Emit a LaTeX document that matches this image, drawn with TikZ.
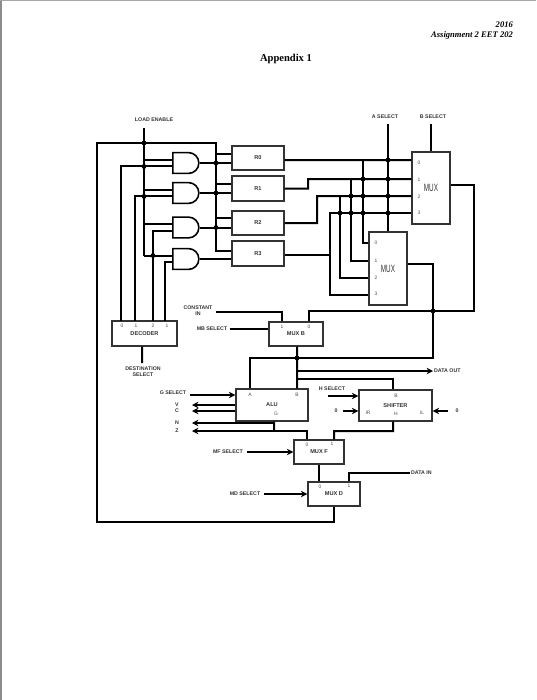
\documentclass[tikz,border=0pt]{standalone}
\usepackage{fontspec}
\setmainfont{Liberation Serif}
\setsansfont{Liberation Sans}
\usetikzlibrary{shapes.gates.logic.US,arrows.meta}
\begin{document}
\begin{tikzpicture}[]
      \coordinate (origo) at (0mm,0mm);
      \useasboundingbox (origo) rectangle (268mm,-350mm);
      
      \tikzstyle{wire} = [line width=1mm,draw=black]
      \tikzstyle{arrow} = [line width=1mm,-{Stealth[length=3.2mm,width=3.2mm]},draw=black]
      \tikzstyle{cell} = [
        rectangle,
        draw=black!80,
        line width=0.7mm,
        fill=white,
        font=\sffamily\bfseries\fontsize{8}{8}\selectfont,
        text=black!80,
        inner sep=0pt,
      ]
      \tikzstyle{andgate} = [
        and gate US,
        draw=black,
        line width=0.8mm,
        logic gate inputs=nn,
        minimum width=13mm,
        minimum height=9mm,
        inner sep=0pt,
      ]
      \tikzstyle{tag} = [
        draw=none,
        inner sep=0.5mm,
        align=center,
        text=black!80,
        font=\sffamily\bfseries\fontsize{7.5}{8.5}\selectfont
      ]
      \tikzstyle{pinlabel} = [
        draw=none,
        inner sep=0pt,
        text=black!70,
        font=\sffamily\fontsize{7}{7}\selectfont
      ]
      \tikzstyle{muxlabel} = [
        draw=none,
        inner sep=0pt,
        text=black!80,
        font=\sffamily\fontsize{15}{15}\selectfont
      ]
      \tikzstyle{dot} = [circle,fill=black,inner sep=0pt,minimum size=2.4mm]
      
      % page edge
      \draw[line width=2mm,draw=black!45] (origo) -- ([yshift=-350mm] origo);
      \draw[line width=1mm,draw=black!35] (origo) -- ([xshift=268mm] origo);
      
      % header
      \node[anchor=east,inner sep=0pt,font=\bfseries\itshape\fontsize{12.2}{12.2}\selectfont] (headYear) at ([xshift=256.5mm,yshift=-12.5mm] origo) {2016};
      \node[anchor=east,inner sep=0pt,font=\bfseries\itshape\fontsize{12.2}{12.2}\selectfont] (headName) at ([xshift=256.5mm,yshift=-17.5mm] origo) {Assignment 2 EET 202};
      \node[inner sep=0pt,font=\bfseries\fontsize{15}{15}\selectfont] (headTitle) at ([xshift=143mm,yshift=-29.5mm] origo) {Appendix 1};
      
      % registers
      \node[cell,minimum width=26mm,minimum height=12mm] (regR0) at ([xshift=129mm,yshift=-79mm] origo) {R0};
      \node[cell,minimum width=26mm,minimum height=12.5mm] (regR1) at ([xshift=129mm,yshift=-94.25mm] origo) {R1};
      \node[cell,minimum width=26mm,minimum height=12mm] (regR2) at ([xshift=129mm,yshift=-111.5mm] origo) {R2};
      \node[cell,minimum width=26mm,minimum height=12.5mm] (regR3) at ([xshift=129mm,yshift=-126.75mm] origo) {R3};
      
      % gates
      \node[andgate] (and0) at ([xshift=92.5mm,yshift=-81.5mm] origo) {};
      \node[andgate] (and1) at ([xshift=92.5mm,yshift=-96.5mm] origo) {};
      \node[andgate] (and2) at ([xshift=92.5mm,yshift=-113.75mm] origo) {};
      \node[andgate] (and3) at ([xshift=92.5mm,yshift=-129.5mm] origo) {};
      
      % muxes
      \node[cell,minimum width=19mm,minimum height=36mm] (muxUpper) at ([xshift=215.5mm,yshift=-94mm] origo) {};
      \node[cell,minimum width=19mm,minimum height=36.5mm] (muxLower) at ([xshift=194mm,yshift=-134.25mm] origo) {};
      \node[muxlabel] (muxUpperName) at ([xshift=215.5mm,yshift=-94mm] origo) {\scalebox{0.6}[1]{MUX}};
      \node[muxlabel] (muxLowerName) at ([xshift=194mm,yshift=-134.5mm] origo) {\scalebox{0.6}[1]{MUX}};
      \node[pinlabel] (muxUpperPin0) at ([xshift=209.5mm,yshift=-81.5mm] origo) {0};
      \node[pinlabel] (muxUpperPin1) at ([xshift=209.5mm,yshift=-90mm] origo) {1};
      \node[pinlabel] (muxUpperPin2) at ([xshift=209.5mm,yshift=-98.5mm] origo) {2};
      \node[pinlabel] (muxUpperPin3) at ([xshift=209.5mm,yshift=-106.5mm] origo) {3};
      \node[pinlabel] (muxLowerPin0) at ([xshift=188mm,yshift=-121.5mm] origo) {0};
      \node[pinlabel] (muxLowerPin1) at ([xshift=188mm,yshift=-130.5mm] origo) {1};
      \node[pinlabel] (muxLowerPin2) at ([xshift=188mm,yshift=-139mm] origo) {2};
      \node[pinlabel] (muxLowerPin3) at ([xshift=188mm,yshift=-147mm] origo) {3};
      
      % lower blocks
      \node[cell,minimum width=32.5mm,minimum height=12.5mm] (decoder) at ([xshift=72.25mm,yshift=-166.75mm] origo) {DECODER};
      \node[cell,minimum width=27mm,minimum height=12mm] (muxB) at ([xshift=148mm,yshift=-167mm] origo) {MUX B};
      \node[cell,minimum width=36mm,minimum height=16mm] (alu) at ([xshift=136mm,yshift=-202.5mm] origo) {ALU};
      \node[cell,minimum width=36.5mm,minimum height=15.5mm] (shifter) at ([xshift=197.75mm,yshift=-202.75mm] origo) {SHIFTER};
      \node[cell,minimum width=25mm,minimum height=12mm] (muxF) at ([xshift=159.5mm,yshift=-226mm] origo) {MUX F};
      \node[cell,minimum width=26mm,minimum height=12mm] (muxD) at ([xshift=167mm,yshift=-247mm] origo) {MUX D};
      
      % pin labels
      \node[pinlabel] (decPin0) at ([xshift=61mm,yshift=-163mm] origo) {0};
      \node[pinlabel] (decPin1) at ([xshift=68mm,yshift=-163mm] origo) {1};
      \node[pinlabel] (decPin2) at ([xshift=76.5mm,yshift=-163mm] origo) {2};
      \node[pinlabel] (decPin3) at ([xshift=83.5mm,yshift=-163mm] origo) {1};
      \node[pinlabel] (muxBPin1) at ([xshift=141mm,yshift=-163.5mm] origo) {1};
      \node[pinlabel] (muxBPin0) at ([xshift=154.5mm,yshift=-163.5mm] origo) {0};
      \node[pinlabel] (aluPinA) at ([xshift=125mm,yshift=-197.5mm] origo) {A};
      \node[pinlabel] (aluPinB) at ([xshift=148.5mm,yshift=-197.5mm] origo) {B};
      \node[pinlabel] (aluPinG) at ([xshift=138mm,yshift=-207mm] origo) {G};
      \node[pinlabel] (shiftPinB) at ([xshift=198mm,yshift=-198mm] origo) {B};
      \node[pinlabel] (shiftPinIR) at ([xshift=184mm,yshift=-206.5mm] origo) {IR};
      \node[pinlabel] (shiftPinH) at ([xshift=198mm,yshift=-207mm] origo) {H};
      \node[pinlabel] (shiftPinIL) at ([xshift=211mm,yshift=-206.5mm] origo) {IL};
      \node[pinlabel] (muxFPin0) at ([xshift=153.5mm,yshift=-222.5mm] origo) {0};
      \node[pinlabel] (muxFPin1) at ([xshift=166mm,yshift=-222mm] origo) {1};
      \node[pinlabel] (muxDPin0) at ([xshift=160mm,yshift=-243.5mm] origo) {0};
      \node[pinlabel] (muxDPin1) at ([xshift=174.5mm,yshift=-243mm] origo) {1};
      
      % labels
      \node[tag] (labelLoad) at ([xshift=77mm,yshift=-60mm] origo) {LOAD ENABLE};
      \node[tag] (labelASel) at ([xshift=192.5mm,yshift=-58.5mm] origo) {A SELECT};
      \node[tag] (labelBSel) at ([xshift=216.5mm,yshift=-58.5mm] origo) {B SELECT};
      \node[tag] (labelConst) at ([xshift=99mm,yshift=-155.5mm] origo) {CONSTANT\\IN};
      \node[tag] (labelMB) at ([xshift=106mm,yshift=-164.5mm] origo) {MB SELECT};
      \node[tag] (labelDest) at ([xshift=71.5mm,yshift=-186mm] origo) {DESTINATION\\SELECT};
      \node[tag] (labelG) at ([xshift=86.5mm,yshift=-196.5mm] origo) {G SELECT};
      \node[tag] (labelV) at ([xshift=88.5mm,yshift=-202.5mm] origo) {V};
      \node[tag] (labelC) at ([xshift=88.5mm,yshift=-205.5mm] origo) {C};
      \node[tag] (labelN) at ([xshift=88.5mm,yshift=-211.5mm] origo) {N};
      \node[tag] (labelZ) at ([xshift=88.5mm,yshift=-215.5mm] origo) {Z};
      \node[tag] (labelH) at ([xshift=166mm,yshift=-194.5mm] origo) {H SELECT};
      \node[tag] (labelZeroL) at ([xshift=168mm,yshift=-205.5mm] origo) {0};
      \node[tag] (labelZeroR) at ([xshift=228.5mm,yshift=-205.5mm] origo) {0};
      \node[tag,anchor=west] (labelOut) at ([xshift=216.5mm,yshift=-185.5mm] origo) {DATA OUT};
      \node[tag] (labelMF) at ([xshift=114mm,yshift=-226mm] origo) {MF SELECT};
      \node[tag] (labelMD) at ([xshift=122.5mm,yshift=-247mm] origo) {MD SELECT};
      \node[tag,anchor=west] (labelIn) at ([xshift=205mm,yshift=-236.5mm] origo) {DATA IN};
      
      % free ends and corners
      \coordinate (loadTop) at ([xshift=72mm,yshift=-64mm] origo);
      \coordinate (busLeft) at ([xshift=48.5mm,yshift=-71.5mm] origo);
      \coordinate (busRight) at ([xshift=108mm,yshift=-71.5mm] origo);
      \coordinate (busBottom) at ([xshift=48.5mm,yshift=-261mm] origo);
      \coordinate (selA) at ([xshift=194mm,yshift=-62mm] origo);
      \coordinate (selB) at ([xshift=215.5mm,yshift=-62mm] origo);
      \coordinate (dec0) at ([xshift=60.5mm,yshift=-160.5mm] origo);
      \coordinate (dec1) at ([xshift=67.5mm,yshift=-160.5mm] origo);
      \coordinate (dec2) at ([xshift=76.5mm,yshift=-160.5mm] origo);
      \coordinate (dec3) at ([xshift=82.5mm,yshift=-160.5mm] origo);
      \coordinate (turnR1) at ([xshift=154mm,yshift=-89.5mm] origo);
      \coordinate (turnR2) at ([xshift=158.5mm,yshift=-98mm] origo);
      \coordinate (turnR3) at ([xshift=165mm,yshift=-106.5mm] origo);
      \coordinate (tap0) at ([xshift=181.5mm,yshift=-80mm] origo);
      \coordinate (tap1) at ([xshift=175.5mm,yshift=-89.5mm] origo);
      \coordinate (tap2) at ([xshift=170mm,yshift=-98mm] origo);
      \coordinate (upperTurn) at ([xshift=237mm,yshift=-155.5mm] origo);
      \coordinate (lowerTurn) at ([xshift=216.5mm,yshift=-179mm] origo);
      \coordinate (busB) at ([xshift=148.5mm,yshift=-179mm] origo);
      \coordinate (tapOut) at ([xshift=148.5mm,yshift=-185.5mm] origo);
      \coordinate (tapShift) at ([xshift=148.5mm,yshift=-189.5mm] origo);
      \coordinate (turnF) at ([xshift=167mm,yshift=-215.5mm] origo);
      \coordinate (aluTapN) at ([xshift=137mm,yshift=-211.5mm] origo);
      \coordinate (aluTapZ) at ([xshift=137mm,yshift=-215.5mm] origo);
      \coordinate (destEnd) at ([xshift=71mm,yshift=-181.5mm] origo);
      
      % load enable
      \draw[wire] (loadTop) -- (and3.input 1 -| loadTop);
      \draw[wire] (and0.input 1) -- (and0.input 1 -| loadTop);
      \draw[wire] (and1.input 1) -- (and1.input 1 -| loadTop);
      \draw[wire] (and2.input 1) -- (and2.input 1 -| loadTop);
      \draw[wire] (and3.input 1) -- (and3.input 1 -| loadTop);
      
      % decoder lines
      \draw[wire] (and0.input 2) -| (dec0);
      \draw[wire] (and1.input 2) -| (dec1);
      \draw[wire] (and2.input 2) -| (dec2);
      \draw[wire] (and3.input 2) -| (dec3);
      \draw[wire] ([xshift=-1.25mm] decoder.south) -- (destEnd);
      
      % gates to registers
      \draw[wire] (and0.output) -- (and0.output -| regR0.west);
      \draw[wire] (and1.output) -- (and1.output -| regR1.west);
      \draw[wire] (and2.output) -- (and2.output -| regR2.west);
      \draw[wire] (and3.output) -- (and3.output -| regR3.west);
      
      % feedback bus
      \draw[wire] (muxD.south) |- (busBottom) -- (busLeft) -- (busRight) |- ([yshift=1.25mm] regR3.west);
      \draw[wire] ([yshift=2mm] regR0.west) -- ([yshift=2mm] regR0.west -| busRight);
      \draw[wire] ([yshift=2.25mm] regR1.west) -- ([yshift=2.25mm] regR1.west -| busRight);
      \draw[wire] ([yshift=2.5mm] regR2.west) -- ([yshift=2.5mm] regR2.west -| busRight);
      
      % registers to muxes
      \draw[wire] ([yshift=-1mm] regR0.east) -- ([yshift=14mm] muxUpper.west);
      \draw[wire] (regR1.east) -| (turnR1) -- ([yshift=4.5mm] muxUpper.west);
      \draw[wire] (regR2.east) -| (turnR2) -- ([yshift=-4mm] muxUpper.west);
      \draw[wire] ([yshift=-0.75mm] regR3.east) -| (turnR3) -- ([yshift=-12.5mm] muxUpper.west);
      \draw[wire] (turnR3) |- ([yshift=-13.25mm] muxLower.west);
      \draw[wire] (tap0) |- ([yshift=12.75mm] muxLower.west);
      \draw[wire] (tap1) |- ([yshift=3.75mm] muxLower.west);
      \draw[wire] (tap2) |- ([yshift=-4.75mm] muxLower.west);
      
      % selects
      \draw[wire] (selA) -- (muxLower.north);
      \draw[wire] (selB) -- (muxUpper.north);
      
      % mux outputs
      \draw[wire] ([yshift=1.5mm] muxUpper.east) -| (upperTurn) -| ([xshift=6.5mm] muxB.north);
      \draw[wire] ([yshift=2.25mm] muxLower.east) -| (lowerTurn) -- (busB);
      
      % constant and mux b
      \draw[wire] ([xshift=108mm,yshift=-156mm] origo) coordinate (constEnd) -| ([xshift=-7mm] muxB.north);
      \draw[wire] ([xshift=115mm,yshift=-164.5mm] origo) coordinate (mbEnd) -- (mbEnd -| muxB.west);
      \draw[wire] (muxB.south -| busB) -- ([xshift=12.5mm] alu.north);
      \draw[wire] (busB) -| ([xshift=-11mm] alu.north);
      \draw[arrow] (tapOut) -- (labelOut.west);
      \draw[wire] (tapShift) -| ([xshift=-1.25mm] shifter.north);
      
      % alu
      \draw[arrow] ([xshift=95mm,yshift=-197.5mm] origo) coordinate (gStart) -- (gStart -| alu.west);
      \draw[arrow] (labelV -| alu.west) -- ([xshift=7.5mm] labelV.center);
      \draw[arrow] (labelC -| alu.west) -- ([xshift=7.5mm] labelC.center);
      \draw[wire] ([xshift=1mm] alu.south) -- (aluTapZ);
      \draw[arrow] (aluTapN) -- ([xshift=7.5mm] labelN.center);
      \draw[arrow] ([xshift=-6mm] muxF.north) |- ([xshift=7.5mm] labelZ.center);
      
      % shifter
      \draw[arrow] ([xshift=164mm,yshift=-198mm] origo) coordinate (hStart) -- (hStart -| shifter.west);
      \draw[arrow] ([xshift=3.5mm] labelZeroL.center) -- (labelZeroL -| shifter.west);
      \draw[arrow] ([xshift=-4.5mm] labelZeroR.center) -- (labelZeroR -| shifter.east);
      \draw[wire] ([xshift=-1.25mm] shifter.south) |- (turnF) -- ([xshift=7.5mm] muxF.north);
      
      % mux f and mux d
      \draw[arrow] ([xshift=9.5mm] labelMF.center) -- (muxF.west);
      \draw[arrow] ([xshift=9.5mm] labelMD.center) -- (muxD.west);
      \draw[wire] (muxF.south) -- (muxF.south |- muxD.north);
      \draw[wire] ([xshift=7.5mm] muxD.north) |- (labelIn.west);
      
      % joins
      \node[dot] (dotLoad) at (loadTop |- busLeft) {};
      \node[dot] (dotAnd0) at (loadTop |- and0.input 2) {};
      \node[dot] (dotAnd1) at (loadTop |- and1.input 2) {};
      \node[dot] (dotAnd3) at (dec2 |- and3.input 1) {};
      \node[dot] (dotBus0) at (busRight |- and0.output) {};
      \node[dot] (dotBus1) at (busRight |- and1.output) {};
      \node[dot] (dotBus2) at (busRight |- and2.output) {};
      \node[dot] (dotA0) at (selA |- tap0) {};
      \node[dot] (dotA1) at (selA |- tap1) {};
      \node[dot] (dotA2) at (selA |- tap2) {};
      \node[dot] (dotA3) at (selA |- turnR3) {};
      \node[dot] (dot01) at (tap0 |- tap1) {};
      \node[dot] (dot02) at (tap0 |- tap2) {};
      \node[dot] (dot03) at (tap0 |- turnR3) {};
      \node[dot] (dot12) at (tap1 |- tap2) {};
      \node[dot] (dot13) at (tap1 |- turnR3) {};
      \node[dot] (dot23) at (tap2 |- turnR3) {};
      \node[dot] (dotUpper) at (lowerTurn |- upperTurn) {};
      \node[dot] (dotB) at (busB) {};
    \end{tikzpicture}
\end{document}
